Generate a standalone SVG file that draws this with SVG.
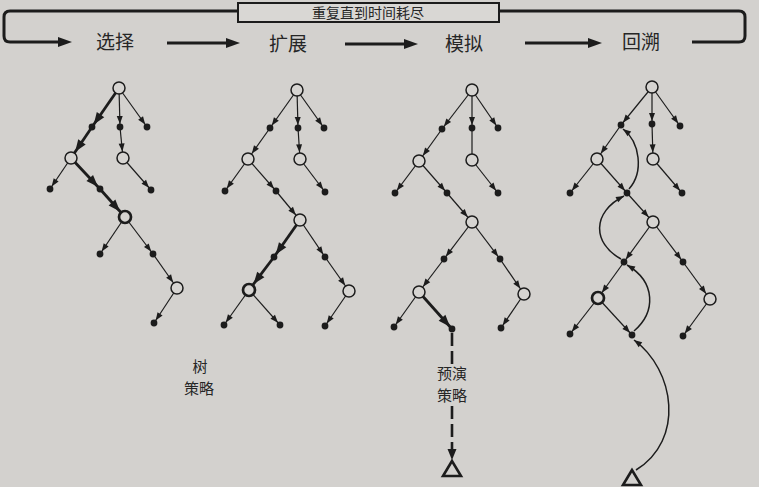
<svg xmlns="http://www.w3.org/2000/svg" width="759" height="487" viewBox="0 0 759 487">
<style>
.bg{fill:#d3d1ce}
.e{stroke:#1c1c1c;stroke-width:1.2;fill:none}
.et{stroke:#1c1c1c;stroke-width:2.8;fill:none}
.o{fill:#d6d4d1;stroke:#1c1c1c;stroke-width:1.5}
.ot{fill:#d6d4d1;stroke:#1c1c1c;stroke-width:2.7}
.f{fill:#1c1c1c}
.h{stroke:#1c1c1c;stroke-width:3;fill:none}
.cv{stroke:#1c1c1c;stroke-width:1.5;fill:none}
.t{font-family:"Noto Sans CJK SC","Noto Sans CJK JP",sans-serif;fill:#262626;text-anchor:middle}
</style>
<defs>
<marker id="mf" markerUnits="userSpaceOnUse" markerWidth="8" markerHeight="6" refX="11" refY="3" orient="auto" overflow="visible"><path d="M0,0 L8,3 L0,6 z" fill="#1c1c1c"/></marker>
<marker id="mo" markerUnits="userSpaceOnUse" markerWidth="8" markerHeight="6" refX="14.6" refY="3" orient="auto" overflow="visible"><path d="M0,0 L8,3 L0,6 z" fill="#1c1c1c"/></marker>
<marker id="mtf" markerUnits="userSpaceOnUse" markerWidth="12" markerHeight="9" refX="15" refY="4.5" orient="auto" overflow="visible"><path d="M0,0 L12,4.5 L0,9 z" fill="#1c1c1c"/></marker>
<marker id="mto" markerUnits="userSpaceOnUse" markerWidth="12" markerHeight="9" refX="19.5" refY="4.5" orient="auto" overflow="visible"><path d="M0,0 L12,4.5 L0,9 z" fill="#1c1c1c"/></marker>
<marker id="mc" markerUnits="userSpaceOnUse" markerWidth="8" markerHeight="6" refX="8" refY="3" orient="auto" overflow="visible"><path d="M0,0 L8,3 L0,6 z" fill="#1c1c1c"/></marker>
<marker id="mh" markerUnits="userSpaceOnUse" markerWidth="14" markerHeight="10" refX="4" refY="5" orient="auto" overflow="visible"><path d="M0,0 L14,5 L0,10 z" fill="#1c1c1c"/></marker>
<marker id="md" markerUnits="userSpaceOnUse" markerWidth="11" markerHeight="9" refX="3" refY="4.5" orient="auto" overflow="visible"><path d="M0,0 L11,4.5 L0,9 z" fill="#1c1c1c"/></marker>
</defs>
<rect class="bg" x="0" y="0" width="759" height="487"/>

<g id="header">
<path class="h" d="M238 11 H10 Q4 11 4 17 V36 Q4 42 10 42 H62" marker-end="url(#mh)"/>
<path class="h" d="M499 11 H739 Q745 11 745 17 V36 Q745 42 739 42 H692"/>
<rect x="238" y="3" width="261" height="19" fill="#d9d7d4" stroke="#1c1c1c" stroke-width="2"/>
<text class="t" x="368" y="18" font-size="14">重复直到时间耗尽</text>
<line class="h" x1="167" y1="43" x2="230" y2="43" marker-end="url(#mh)"/>
<line class="h" x1="345" y1="44" x2="408" y2="44" marker-end="url(#mh)"/>
<line class="h" x1="525" y1="43" x2="592" y2="43" marker-end="url(#mh)"/>
<text class="t" x="115" y="49" font-size="19">选择</text>
<text class="t" x="288" y="51" font-size="19">扩展</text>
<text class="t" x="464" y="51" font-size="19">模拟</text>
<text class="t" x="641" y="49" font-size="19">回溯</text>
</g>

<g id="connectors">
<!-- tree 1 -->
<line class="et" x1="119" y1="88" x2="92" y2="127" marker-end="url(#mtf)"/>
<line class="e" x1="119" y1="88" x2="120" y2="127" marker-end="url(#mf)"/>
<line class="e" x1="119" y1="88" x2="147" y2="127" marker-end="url(#mf)"/>
<line class="et" x1="92" y1="127" x2="71" y2="158" marker-end="url(#mto)"/>
<line class="e" x1="120" y1="127" x2="123" y2="158" marker-end="url(#mo)"/>
<line class="e" x1="71" y1="158" x2="50" y2="189" marker-end="url(#mf)"/>
<line class="et" x1="71" y1="158" x2="100" y2="189" marker-end="url(#mtf)"/>
<line class="e" x1="123" y1="158" x2="151" y2="190" marker-end="url(#mf)"/>
<line class="et" x1="100" y1="189" x2="125" y2="217" marker-end="url(#mto)"/>
<line class="e" x1="125" y1="217" x2="100" y2="254" marker-end="url(#mf)"/>
<line class="e" x1="125" y1="217" x2="153" y2="254" marker-end="url(#mf)"/>
<line class="e" x1="153" y1="254" x2="177" y2="288" marker-end="url(#mo)"/>
<line class="e" x1="177" y1="288" x2="154" y2="323" marker-end="url(#mf)"/>
<!-- tree 2 -->
<line class="e" x1="297" y1="90" x2="270" y2="128" marker-end="url(#mf)"/>
<line class="e" x1="297" y1="90" x2="298" y2="128" marker-end="url(#mf)"/>
<line class="e" x1="297" y1="90" x2="324" y2="128" marker-end="url(#mf)"/>
<line class="e" x1="270" y1="128" x2="248" y2="159" marker-end="url(#mo)"/>
<line class="e" x1="298" y1="128" x2="300" y2="159" marker-end="url(#mo)"/>
<line class="e" x1="248" y1="159" x2="225" y2="191" marker-end="url(#mf)"/>
<line class="e" x1="248" y1="159" x2="276" y2="191" marker-end="url(#mf)"/>
<line class="e" x1="300" y1="159" x2="325" y2="192" marker-end="url(#mf)"/>
<line class="e" x1="276" y1="191" x2="300" y2="220" marker-end="url(#mo)"/>
<line class="et" x1="300" y1="220" x2="274" y2="257" marker-end="url(#mtf)"/>
<line class="e" x1="300" y1="220" x2="325" y2="257" marker-end="url(#mf)"/>
<line class="et" x1="274" y1="257" x2="249" y2="290" marker-end="url(#mto)"/>
<line class="e" x1="325" y1="257" x2="349" y2="291" marker-end="url(#mo)"/>
<line class="e" x1="249" y1="290" x2="224" y2="325" marker-end="url(#mf)"/>
<line class="e" x1="249" y1="290" x2="280" y2="325" marker-end="url(#mf)"/>
<line class="e" x1="349" y1="291" x2="325" y2="326" marker-end="url(#mf)"/>
<!-- tree 3 -->
<line class="e" x1="472" y1="90" x2="442" y2="129" marker-end="url(#mf)"/>
<line class="e" x1="472" y1="90" x2="472" y2="128" marker-end="url(#mf)"/>
<line class="e" x1="472" y1="90" x2="498" y2="128" marker-end="url(#mf)"/>
<line class="e" x1="442" y1="129" x2="419" y2="161" marker-end="url(#mo)"/>
<line class="e" x1="472" y1="128" x2="472" y2="160"/>
<line class="e" x1="419" y1="161" x2="395" y2="193" marker-end="url(#mf)"/>
<line class="e" x1="419" y1="161" x2="447" y2="193" marker-end="url(#mf)"/>
<line class="e" x1="472" y1="160" x2="498" y2="193" marker-end="url(#mf)"/>
<line class="e" x1="447" y1="193" x2="472" y2="222" marker-end="url(#mo)"/>
<line class="e" x1="472" y1="222" x2="444" y2="259" marker-end="url(#mf)"/>
<line class="e" x1="472" y1="222" x2="500" y2="259" marker-end="url(#mf)"/>
<line class="e" x1="444" y1="259" x2="419" y2="292" marker-end="url(#mo)"/>
<line class="e" x1="500" y1="259" x2="524" y2="294" marker-end="url(#mo)"/>
<line class="e" x1="419" y1="292" x2="394" y2="327" marker-end="url(#mf)"/>
<line class="et" x1="419" y1="292" x2="452" y2="329" marker-end="url(#mtf)"/>
<line class="e" x1="524" y1="294" x2="501" y2="328" marker-end="url(#mf)"/>
<line x1="452" y1="333" x2="452" y2="364" stroke="#1c1c1c" stroke-width="2.6" stroke-dasharray="13 5"/>
<line x1="452" y1="406" x2="452" y2="452" stroke="#1c1c1c" stroke-width="2.6" stroke-dasharray="13 5" marker-end="url(#md)"/>
<!-- tree 4 -->
<line class="e" x1="652" y1="87" x2="621" y2="125" marker-end="url(#mf)"/>
<line class="e" x1="652" y1="87" x2="652" y2="124" marker-end="url(#mf)"/>
<line class="e" x1="652" y1="87" x2="680" y2="126" marker-end="url(#mf)"/>
<line class="e" x1="621" y1="125" x2="597" y2="159" marker-end="url(#mo)"/>
<line class="e" x1="652" y1="124" x2="653" y2="159" marker-end="url(#mo)"/>
<line class="e" x1="597" y1="159" x2="570" y2="193" marker-end="url(#mf)"/>
<line class="e" x1="597" y1="159" x2="627" y2="193" marker-end="url(#mf)"/>
<line class="e" x1="653" y1="159" x2="682" y2="193" marker-end="url(#mf)"/>
<line class="e" x1="627" y1="193" x2="653" y2="222" marker-end="url(#mo)"/>
<line class="e" x1="653" y1="222" x2="624" y2="262" marker-end="url(#mf)"/>
<line class="e" x1="653" y1="222" x2="683" y2="262" marker-end="url(#mf)"/>
<line class="e" x1="624" y1="262" x2="598" y2="298" marker-end="url(#mo)"/>
<line class="e" x1="683" y1="262" x2="710" y2="299" marker-end="url(#mo)"/>
<line class="e" x1="598" y1="298" x2="570" y2="334" marker-end="url(#mf)"/>
<line class="e" x1="598" y1="298" x2="632" y2="335" marker-end="url(#mf)"/>
<line class="e" x1="710" y1="299" x2="683" y2="336" marker-end="url(#mf)"/>
<path class="cv" d="M636 470 C685 440 675 370 634 340" marker-end="url(#mc)"/>
<path class="cv" d="M634 331 C656 312 656 282 627 265" marker-end="url(#mc)"/>
<path class="cv" d="M621 259 C592 243 592 212 624 196" marker-end="url(#mc)"/>
<path class="cv" d="M629 189 C644 172 640 142 623 129" marker-end="url(#mc)"/>
</g>

<g id="t1-R"><circle class="o" cx="119" cy="88" r="6"/></g>
<g id="t1-A"><circle class="f" cx="92" cy="127" r="3.4"/></g>
<g id="t1-B"><circle class="f" cx="120" cy="127" r="3.4"/></g>
<g id="t1-C"><circle class="f" cx="147" cy="127" r="3.4"/></g>
<g id="t1-D"><circle class="o" cx="71" cy="158" r="6"/></g>
<g id="t1-E"><circle class="o" cx="123" cy="158" r="6"/></g>
<g id="t1-F"><circle class="f" cx="50" cy="189" r="3.4"/></g>
<g id="t1-G"><circle class="f" cx="100" cy="189" r="3.4"/></g>
<g id="t1-H"><circle class="f" cx="151" cy="190" r="3.4"/></g>
<g id="t1-I"><circle class="ot" cx="125" cy="217" r="6"/></g>
<g id="t1-J"><circle class="f" cx="100" cy="254" r="3.4"/></g>
<g id="t1-K"><circle class="f" cx="153" cy="254" r="3.4"/></g>
<g id="t1-L"><circle class="o" cx="177" cy="288" r="6"/></g>
<g id="t1-M"><circle class="f" cx="154" cy="323" r="3.4"/></g>

<g id="t2-R"><circle class="o" cx="297" cy="90" r="6"/></g>
<g id="t2-A"><circle class="f" cx="270" cy="128" r="3.4"/></g>
<g id="t2-B"><circle class="f" cx="298" cy="128" r="3.4"/></g>
<g id="t2-C"><circle class="f" cx="324" cy="128" r="3.4"/></g>
<g id="t2-D"><circle class="o" cx="248" cy="159" r="6"/></g>
<g id="t2-E"><circle class="o" cx="300" cy="159" r="6"/></g>
<g id="t2-F"><circle class="f" cx="225" cy="191" r="3.4"/></g>
<g id="t2-G"><circle class="f" cx="276" cy="191" r="3.4"/></g>
<g id="t2-H"><circle class="f" cx="325" cy="192" r="3.4"/></g>
<g id="t2-I"><circle class="o" cx="300" cy="220" r="6"/></g>
<g id="t2-J"><circle class="f" cx="274" cy="257" r="3.4"/></g>
<g id="t2-K"><circle class="f" cx="325" cy="257" r="3.4"/></g>
<g id="t2-L"><circle class="ot" cx="249" cy="290" r="6"/></g>
<g id="t2-N"><circle class="o" cx="349" cy="291" r="6"/></g>
<g id="t2-O"><circle class="f" cx="224" cy="325" r="3.4"/></g>
<g id="t2-P"><circle class="f" cx="280" cy="325" r="3.4"/></g>
<g id="t2-Q"><circle class="f" cx="325" cy="326" r="3.4"/></g>

<g id="t3-R"><circle class="o" cx="472" cy="90" r="6"/></g>
<g id="t3-A"><circle class="f" cx="442" cy="129" r="3.4"/></g>
<g id="t3-B"><circle class="f" cx="472" cy="128" r="3.4"/></g>
<g id="t3-C"><circle class="f" cx="498" cy="128" r="3.4"/></g>
<g id="t3-D"><circle class="o" cx="419" cy="161" r="6"/></g>
<g id="t3-E"><circle class="o" cx="472" cy="160" r="6"/></g>
<g id="t3-F"><circle class="f" cx="395" cy="193" r="3.4"/></g>
<g id="t3-G"><circle class="f" cx="447" cy="193" r="3.4"/></g>
<g id="t3-H"><circle class="f" cx="498" cy="193" r="3.4"/></g>
<g id="t3-I"><circle class="o" cx="472" cy="222" r="6"/></g>
<g id="t3-J"><circle class="f" cx="444" cy="259" r="3.4"/></g>
<g id="t3-K"><circle class="f" cx="500" cy="259" r="3.4"/></g>
<g id="t3-L"><circle class="o" cx="419" cy="292" r="6"/></g>
<g id="t3-N"><circle class="o" cx="524" cy="294" r="6"/></g>
<g id="t3-O"><circle class="f" cx="394" cy="327" r="3.4"/></g>
<g id="t3-P"><circle class="f" cx="452" cy="329" r="3.4"/></g>
<g id="t3-Q"><circle class="f" cx="501" cy="328" r="3.4"/></g>
<g id="t3-end"><polygon points="452,461 443,476 461,476" fill="none" stroke="#1c1c1c" stroke-width="2.6"/></g>

<g id="t4-R"><circle class="o" cx="652" cy="87" r="6"/></g>
<g id="t4-A"><circle class="f" cx="621" cy="125" r="3.4"/></g>
<g id="t4-B"><circle class="f" cx="652" cy="124" r="3.4"/></g>
<g id="t4-C"><circle class="f" cx="680" cy="126" r="3.4"/></g>
<g id="t4-D"><circle class="o" cx="597" cy="159" r="6"/></g>
<g id="t4-E"><circle class="o" cx="653" cy="159" r="6"/></g>
<g id="t4-F"><circle class="f" cx="570" cy="193" r="3.4"/></g>
<g id="t4-G"><circle class="f" cx="627" cy="193" r="3.4"/></g>
<g id="t4-H"><circle class="f" cx="682" cy="193" r="3.4"/></g>
<g id="t4-I"><circle class="o" cx="653" cy="222" r="6"/></g>
<g id="t4-J"><circle class="f" cx="624" cy="262" r="3.4"/></g>
<g id="t4-K"><circle class="f" cx="683" cy="262" r="3.4"/></g>
<g id="t4-L"><circle class="ot" cx="598" cy="298" r="6"/></g>
<g id="t4-N"><circle class="o" cx="710" cy="299" r="6"/></g>
<g id="t4-O"><circle class="f" cx="570" cy="334" r="3.4"/></g>
<g id="t4-P"><circle class="f" cx="632" cy="335" r="3.4"/></g>
<g id="t4-Q"><circle class="f" cx="683" cy="336" r="3.4"/></g>
<g id="t4-end"><polygon points="632,470 623,485 641,485" fill="none" stroke="#1c1c1c" stroke-width="2.6"/></g>

<g id="labels">
<text class="t" x="200" y="372" font-size="15">树</text>
<text class="t" x="199" y="394" font-size="15">策略</text>
<text class="t" x="452" y="379" font-size="15">预演</text>
<text class="t" x="452" y="401" font-size="15">策略</text>
</g>
</svg>
